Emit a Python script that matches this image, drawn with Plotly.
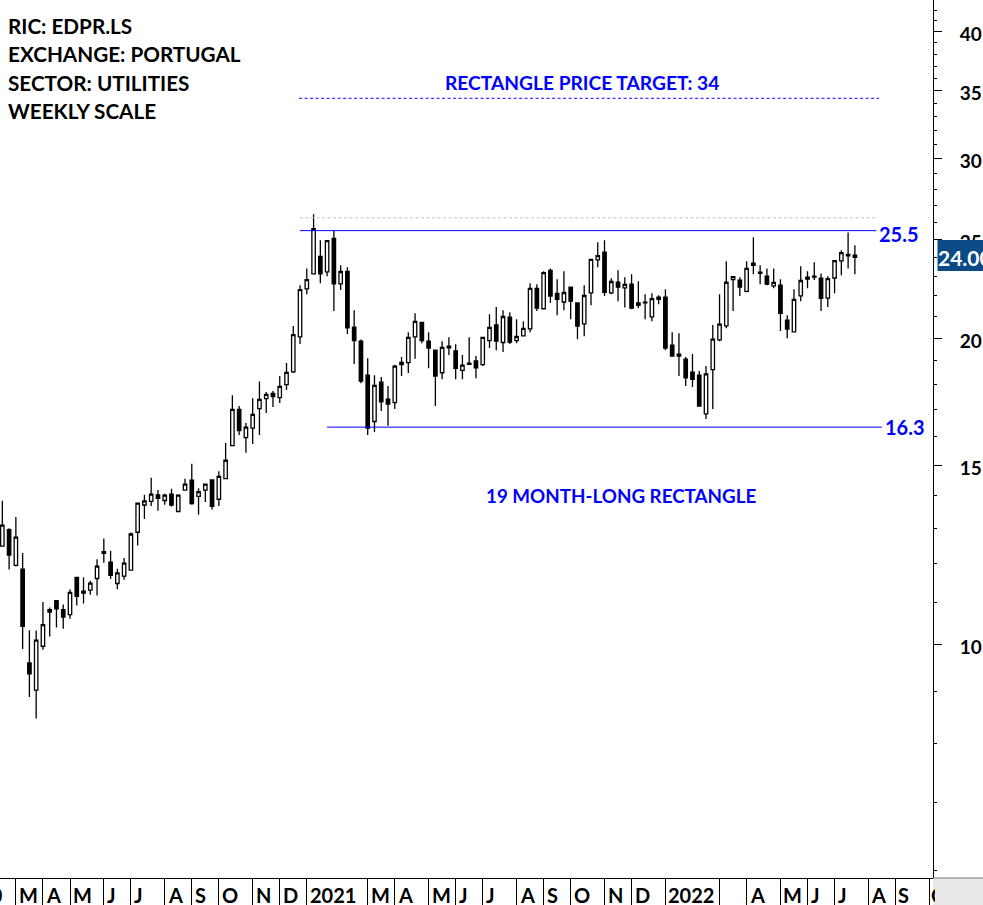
import pandas as pd
import plotly.graph_objects as go

# weekly bars
dates = pd.date_range("2020-02-24", periods=127, freq="7D")

opens = [12.49, 12.97, 11.96, 11.86, 9.59, 9.02, 9.96, 10.82, 11.04, 10.82,
         10.70, 11.64, 11.28, 11.31, 11.61, 12.34, 12.05, 11.48, 11.67, 11.83,
         12.89, 13.71, 13.82, 14.03, 13.85, 14.05, 13.51, 14.18, 14.50, 13.98,
         14.18, 14.51, 13.89, 14.55, 15.68, 17.02, 15.97, 16.31, 17.05, 17.44,
         17.65, 17.48, 18.00, 18.53, 20.05, 22.35, 23.12, 24.06, 23.23, 25.06,
         22.61, 23.26, 20.50, 19.86, 18.39, 16.56, 18.10, 17.42, 17.28, 18.83,
         18.92, 20.05, 20.72, 19.86, 19.46, 18.49, 19.64, 19.43, 18.59, 18.90,
         18.99, 18.83, 19.88, 20.60, 19.80, 20.97, 19.88, 20.10, 20.42, 22.38,
         21.37, 23.31, 22.13, 21.70, 22.44, 21.65, 20.65, 22.15, 23.87, 24.29,
         22.15, 22.69, 22.40, 22.59, 21.65, 21.69, 20.98, 21.94, 21.94, 19.68,
         19.29, 19.07, 18.52, 18.39, 16.85, 18.62, 19.92, 20.56, 22.83, 22.80,
         22.23, 23.69, 23.21, 23.00, 22.51, 22.54, 20.83, 20.28, 22.00, 22.95,
         23.00, 22.90, 21.89, 22.91, 23.81, 24.17, 24.12]
highs = [13.84, 13.01, 13.34, 12.30, 10.33, 10.32, 11.01, 10.87, 11.04, 10.95,
         11.33, 11.64, 11.64, 11.55, 12.13, 12.71, 12.36, 11.87, 12.16, 12.88,
         13.77, 14.03, 14.58, 14.18, 14.06, 14.22, 14.05, 14.55, 15.05, 14.24,
         14.37, 14.51, 14.80, 15.77, 17.57, 17.15, 16.50, 17.45, 18.13, 17.70,
         17.74, 18.35, 18.90, 20.55, 22.54, 23.41, 26.46, 24.95, 24.93, 25.50,
         23.58, 23.47, 21.30, 19.94, 19.11, 18.39, 18.31, 17.94, 18.83, 19.16,
         20.26, 21.15, 20.72, 20.26, 19.46, 19.86, 20.04, 19.72, 19.25, 20.04,
         19.20, 20.04, 21.11, 21.45, 21.30, 21.20, 20.87, 20.78, 22.64, 22.59,
         23.26, 23.41, 22.85, 23.26, 22.44, 21.69, 22.54, 23.89, 24.84, 24.95,
         22.90, 23.31, 22.95, 23.10, 22.74, 22.08, 22.13, 22.03, 22.33, 20.26,
         20.22, 19.16, 19.29, 18.56, 18.77, 20.60, 22.08, 23.80, 22.98, 22.95,
         23.80, 25.12, 23.58, 23.41, 23.41, 22.85, 21.06, 22.33, 23.53, 23.26,
         23.74, 23.15, 23.00, 23.85, 24.39, 25.39, 24.67]
lows = [12.49, 11.85, 11.93, 9.90, 8.88, 8.46, 9.88, 10.18, 10.39, 10.36,
        10.60, 10.92, 10.97, 11.19, 11.17, 12.03, 11.60, 11.33, 11.58, 11.83,
        12.51, 13.28, 13.68, 13.53, 13.72, 13.66, 13.51, 14.18, 13.72, 13.41,
        13.80, 13.57, 13.68, 14.55, 15.68, 16.06, 15.43, 15.74, 16.06, 16.88,
        17.11, 17.27, 17.78, 18.48, 19.73, 22.08, 23.12, 22.64, 23.00, 21.26,
        22.29, 20.18, 18.86, 18.06, 16.06, 16.17, 16.96, 16.40, 17.03, 18.35,
        18.48, 19.08, 19.77, 18.68, 17.15, 18.22, 19.25, 18.22, 18.22, 18.85,
        18.26, 18.77, 19.55, 19.46, 19.38, 19.73, 19.77, 20.10, 20.26, 21.26,
        21.37, 21.65, 21.06, 21.30, 20.87, 19.95, 20.08, 21.54, 23.47, 21.99,
        22.08, 21.74, 21.43, 21.35, 21.40, 20.87, 20.78, 21.59, 19.46, 19.20,
        18.35, 17.94, 17.90, 17.15, 16.65, 17.03, 19.86, 20.45, 21.26, 21.99,
        22.18, 23.10, 22.59, 22.54, 22.39, 20.32, 19.99, 20.28, 21.74, 22.39,
        22.80, 21.26, 21.45, 22.13, 23.05, 23.41, 23.10]
closes = [13.10, 12.24, 12.75, 10.42, 9.36, 10.10, 10.46, 10.76, 10.84, 10.64,
          11.25, 11.15, 11.23, 11.49, 11.94, 12.29, 11.69, 11.76, 12.02, 12.84,
          13.77, 13.84, 14.05, 13.92, 14.02, 13.71, 14.02, 14.37, 13.75, 14.13,
          14.37, 13.67, 14.63, 15.17, 17.02, 16.22, 16.35, 16.83, 17.41, 17.61,
          17.52, 17.93, 18.51, 20.16, 22.32, 22.83, 25.62, 23.12, 24.93, 22.61,
          23.25, 20.47, 19.88, 18.14, 16.31, 17.97, 17.31, 17.22, 18.77, 18.93,
          20.03, 20.77, 19.88, 19.55, 18.35, 19.58, 19.56, 18.67, 18.81, 18.85,
          18.70, 20.03, 20.49, 19.86, 21.00, 19.82, 20.07, 20.44, 22.38, 21.40,
          23.19, 21.99, 21.83, 22.17, 21.74, 20.55, 22.02, 23.89, 24.10, 22.18,
          22.73, 22.44, 22.58, 21.40, 21.54, 21.66, 21.87, 21.83, 19.55, 19.20,
          19.20, 18.28, 18.22, 17.15, 18.44, 19.95, 20.64, 22.69, 22.98, 22.44,
          23.41, 23.58, 23.15, 22.59, 22.68, 21.15, 20.41, 21.83, 22.78, 22.85,
          22.96, 21.88, 22.88, 23.83, 24.26, 24.08, 24.00]

# month starts as the chart marks them, with the label printed next to each
month_ticks = ["2020-03-09", "2020-04-06", "2020-05-04", "2020-06-08", "2020-07-06",
               "2020-08-10", "2020-09-07", "2020-10-05", "2020-11-09", "2020-12-07",
               "2021-01-04", "2021-03-08", "2021-04-05", "2021-05-10", "2021-06-07",
               "2021-07-05", "2021-08-09", "2021-09-06", "2021-10-04", "2021-11-08",
               "2021-12-06", "2022-01-10", "2022-03-07", "2022-04-04", "2022-05-09",
               "2022-06-06", "2022-07-04", "2022-08-08", "2022-09-05", "2022-10-10"]
# march 2022 has a tick but no letter, october is handled apart because it is cut off
month_labels = ["M", "A", "M", "J", "J", "A", "S", "O", "N", "D",
                "2021", "M", "A", "M", "J", "J", "A", "S", "O", "N",
                "D", "2022", "", "A", "M", "J", "J", "A", "S"]
price_ticks = [10, 15, 20, 25, 30, 35, 40]
minor_ticks = [6, 7, 8, 9, 11, 12, 13, 14, 16, 17, 18, 19, 21, 22, 23, 24, 26, 27, 28, 29,
               31, 32, 33, 34, 36, 37, 38, 39, 41, 42]

info_lines = ["RIC: EDPR.LS", "EXCHANGE: PORTUGAL", "SECTOR: UTILITIES", "WEEKLY SCALE"]

top_level = 25.5
low_level = 16.35
high_dash = 26.25
target_level = 34.4

plot_w = 933.5   # pixel size of the plot area
plot_h = 878
font = "Lato"
blue = "#0000ff"


def px(x):
    return x / plot_w


def py(y):
    return 1 - y / plot_h


def label(x, y, text, color="black", size=20, anchor="left", **kw):
    return dict(xref="paper", yref="paper", x=px(x), y=py(y), text=f"<b>{text}</b>",
                showarrow=False, xanchor=anchor, yanchor="middle",
                font=dict(family=font, size=size, color=color), **kw)


fig = go.Figure()

fig.add_trace(go.Candlestick(
    x=dates, open=opens, high=highs, low=lows, close=closes,
    increasing=dict(line=dict(color="black", width=1.3), fillcolor="white"),
    decreasing=dict(line=dict(color="black", width=1.3), fillcolor="black"),
    whiskerwidth=0,
    hoverinfo="skip",
))

# pattern boundaries and target
for x0, x1, level, color, dash in [
    ("2020-12-28", "2022-08-18", high_dash, "#c0c0c0", "3px,2.5px"),
    ("2020-12-28", "2022-08-16", top_level, blue, "solid"),
    ("2021-01-25", "2022-08-22", low_level, blue, "solid"),
    ("2020-12-27", "2022-08-19", target_level, blue, "3px,2.5px"),
]:
    fig.add_trace(go.Scatter(x=[x0, x1], y=[level, level], mode="lines",
                             line=dict(color=color, dash=dash, width=1), hoverinfo="skip"))

annotations = [label(6, 26 + i * 28.4, t, size=20.7) for i, t in enumerate(info_lines)]
annotations += [
    label(443, 82, "RECTANGLE PRICE TARGET: 34", color=blue, size=19.2),
    label(484, 495, "19 MONTH-LONG RECTANGLE", color=blue, size=18.8),
    label(877, 234, "25.5", color=blue),
    label(883, 427, "16.3", color=blue),
    label(5, 895, "2020", anchor="right"),
    label(937, 257, "24.00", color="white", size=21),
]
for tick, text in zip(month_ticks, month_labels):
    if text:
        annotations.append(dict(xref="x", yref="paper", x=tick, y=py(895), text=f"<b>{text}</b>",
                                showarrow=False, xanchor="left", yanchor="middle", xshift=1,
                                font=dict(family=font, size=20, color="black")))
# the last month is cut off by the grey corner
annotations.append(dict(xref="paper", yref="paper", x=px(930), y=py(895), text="<b>O</b>",
                        showarrow=False, xanchor="left", yanchor="middle", width=4, align="left",
                        borderpad=0, font=dict(family=font, size=20, color="black")))

fig.update_layout(
    width=983, height=905,
    margin=dict(l=0, r=49.5, t=0, b=27),
    paper_bgcolor="white", plot_bgcolor="white",
    showlegend=False,
    boxgap=0.28,
    xaxis=dict(
        type="date",
        range=["2020-02-21 14:00", "2022-10-13 20:00"],
        rangeslider=dict(visible=False),
        tickvals=month_ticks, showticklabels=False,
        ticks="outside", ticklen=27, tickwidth=1, tickcolor="black",
        showgrid=False, zeroline=False,
        showline=True, linecolor="black", linewidth=1,
    ),
    yaxis=dict(
        type="log", side="right",
        range=[0.77063, 1.63310],
        tickvals=price_ticks, ticktext=[f"<b>{v}</b>" for v in price_ticks],
        tickfont=dict(family=font, size=19, color="black"),
        ticks="outside", ticklen=8, tickwidth=1, tickcolor="black",
        ticklabelstandoff=14, ticklabelshift=3,
        minor=dict(tickvals=minor_ticks, ticks="outside", ticklen=3, tickwidth=1, tickcolor="black", showgrid=False),
        showgrid=False, zeroline=False,
        showline=True, linecolor="black", linewidth=1,
    ),
    annotations=annotations,
    shapes=[
        dict(type="rect", xref="paper", yref="paper", x0=px(938), x1=px(990), y0=py(240), y1=py(271),
             fillcolor="#0b4a85", line=dict(width=0), layer="above"),
        dict(type="rect", xref="paper", yref="paper", x0=1, x1=px(990), y0=py(878), y1=py(910),
             fillcolor="#e8e8e8", line=dict(width=0), layer="above"),
        dict(type="line", xref="paper", yref="paper", x0=1, x1=px(990), y0=0, y1=0,
             line=dict(color="#777777", width=1), layer="above"),
    ],
)

fig.write_html("out.html", config=dict(displayModeBar=False),
               post_script="document.body.style.margin='0';")
